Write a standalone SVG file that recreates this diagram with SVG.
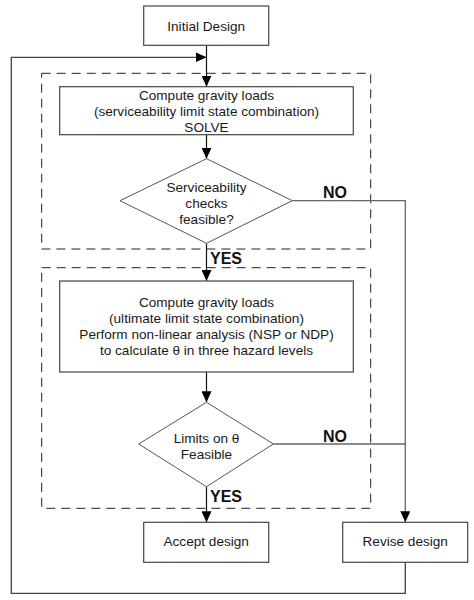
<svg xmlns="http://www.w3.org/2000/svg" width="474" height="600" viewBox="0 0 474 600">
<style>
.box{fill:#fff;stroke:#444;stroke-width:1.2}
.dia{fill:#fff;stroke:#555;stroke-width:1}
.dash{fill:none;stroke:#222;stroke-width:1;stroke-dasharray:9 6}
.t{font-family:"Liberation Sans",Arial,sans-serif;font-size:13.6px;fill:#1a1a1a;text-anchor:middle}
.b{font-family:"Liberation Sans",Arial,sans-serif;font-size:16px;font-weight:bold;fill:#111}
.ln{fill:none;stroke:#111;stroke-width:1.2}
.gl{fill:none;stroke:#666;stroke-width:1.3}
</style>
<defs>
<marker id="ah" markerUnits="userSpaceOnUse" markerWidth="11" markerHeight="10" refX="11" refY="5" orient="auto">
<path d="M0,0 L11,5 L0,10 z" fill="#000"/>
</marker>
</defs>
<g id="groups">
<rect class="dash" x="41.7" y="73.3" width="329" height="175.7"/>
<rect class="dash" x="41.7" y="267.7" width="329" height="240.6"/>
</g>
<g id="connectors">
<line class="ln" x1="206.5" y1="45.3" x2="206.5" y2="86.7" marker-end="url(#ah)"/>
<polyline class="gl" points="405.3,562.3 405.3,593.3 11.3,593.3 11.3,57.3 206.5,57.3" style="stroke:#444" marker-end="url(#ah)"/>
<line class="ln" x1="206.5" y1="134.7" x2="206.5" y2="158.7" marker-end="url(#ah)"/>
<line class="ln" x1="206.5" y1="243.3" x2="206.5" y2="281" marker-end="url(#ah)"/>
<line class="ln" x1="206.5" y1="372" x2="206.5" y2="402.3" marker-end="url(#ah)"/>
<line class="ln" x1="206.5" y1="486.7" x2="206.5" y2="522.3" marker-end="url(#ah)"/>
<polyline class="gl" points="292.3,200.7 405.3,200.7 405.3,522.3" marker-end="url(#ah)"/>
<line class="gl" x1="273.3" y1="444" x2="405.3" y2="444"/>
<text class="b" x="323" y="198">NO</text>
<text class="b" x="210" y="264">YES</text>
<text class="b" x="323" y="441.5">NO</text>
<text class="b" x="210" y="502">YES</text>
</g>
<g id="initial">
<rect class="box" x="143.7" y="6" width="125" height="39.3"/>
<text class="t" x="206.2" y="30.5">Initial Design</text>
</g>
<g id="compute1">
<rect class="box" x="59.7" y="86.7" width="293.6" height="48"/>
<text class="t" x="206.5" y="100">Compute gravity loads</text>
<text class="t" x="206.5" y="116">(serviceability limit state combination)</text>
<text class="t" x="206.5" y="132">SOLVE</text>
</g>
<g id="check1">
<polygon class="dia" points="206.5,158.7 292.3,200.7 206.5,243.3 120,200.7"/>
<text class="t" x="206.5" y="191.5">Serviceability</text>
<text class="t" x="206.5" y="207.5">checks</text>
<text class="t" x="206.5" y="224">feasible?</text>
</g>
<g id="compute2">
<rect class="box" x="59.7" y="281" width="293.6" height="91"/>
<text class="t" x="206.5" y="307">Compute gravity loads</text>
<text class="t" x="206.5" y="323">(ultimate limit state combination)</text>
<text class="t" x="206.5" y="339">Perform non-linear analysis (NSP or NDP)</text>
<text class="t" x="206.5" y="355">to calculate θ in three hazard levels</text>
</g>
<g id="check2">
<polygon class="dia" points="206.5,402.3 273.3,444 206.5,486.7 138.7,444"/>
<text class="t" x="206.5" y="443">Limits on θ</text>
<text class="t" x="206.5" y="459">Feasible</text>
</g>
<g id="accept">
<rect class="box" x="143.7" y="522.3" width="125" height="40"/>
<text class="t" x="206.2" y="546">Accept design</text>
</g>
<g id="revise">
<rect class="box" x="342.7" y="522.3" width="125" height="40"/>
<text class="t" x="405.2" y="546">Revise design</text>
</g>
</svg>
